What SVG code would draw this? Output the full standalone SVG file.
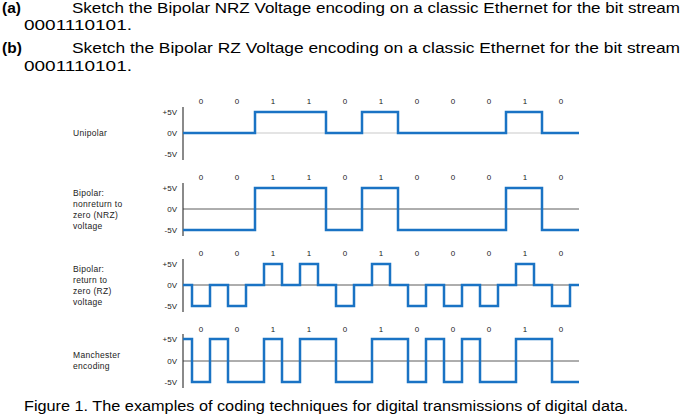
<svg xmlns="http://www.w3.org/2000/svg" width="687" height="419" viewBox="0 0 687 419">
<style>
.h{font-family:"Liberation Sans",Arial,sans-serif;font-size:15.5px;fill:#000}
.b{font-weight:bold}
.lab{font-family:"Liberation Sans",Arial,sans-serif;font-size:8.5px;fill:#222;letter-spacing:0.3px}
.v{font-family:"Liberation Sans",Arial,sans-serif;font-size:8px;fill:#222;text-anchor:end}
.bit{font-family:"Liberation Sans",Arial,sans-serif;font-size:8px;fill:#222;text-anchor:middle}
.ax{stroke:#8a8a8a;stroke-width:2}
.zl{stroke:#333;stroke-width:0.8}
.sig{fill:none;stroke:#1a73c4;stroke-width:2.5}
</style>
<rect width="687" height="419" fill="#fff"/>
<g id="header">
<text class="h b" x="2" y="13">(a)</text>
<text class="h" x="72" y="13" textLength="608" lengthAdjust="spacingAndGlyphs">Sketch the Bipolar NRZ Voltage encoding on a classic Ethernet for the bit stream</text>
<text class="h" x="24" y="30" textLength="108" lengthAdjust="spacingAndGlyphs">0001110101.</text>
<text class="h b" x="2" y="53">(b)</text>
<text class="h" x="72" y="53" textLength="608" lengthAdjust="spacingAndGlyphs">Sketch the Bipolar RZ Voltage encoding on a classic Ethernet for the bit stream</text>
<text class="h" x="24" y="71" textLength="108" lengthAdjust="spacingAndGlyphs">0001110101.</text>
</g>
<g id="bits">
<g class="bitrow">
<text class="bit" x="201" y="104">0</text><text class="bit" x="237" y="104">0</text><text class="bit" x="273" y="104">1</text><text class="bit" x="309" y="104">1</text><text class="bit" x="345" y="104">0</text><text class="bit" x="381" y="104">1</text><text class="bit" x="417" y="104">0</text><text class="bit" x="453" y="104">0</text><text class="bit" x="489" y="104">0</text><text class="bit" x="525" y="104">1</text><text class="bit" x="561" y="104">0</text>
</g>
<g class="bitrow">
<text class="bit" x="201" y="180">0</text><text class="bit" x="237" y="180">0</text><text class="bit" x="273" y="180">1</text><text class="bit" x="309" y="180">1</text><text class="bit" x="345" y="180">0</text><text class="bit" x="381" y="180">1</text><text class="bit" x="417" y="180">0</text><text class="bit" x="453" y="180">0</text><text class="bit" x="489" y="180">0</text><text class="bit" x="525" y="180">1</text><text class="bit" x="561" y="180">0</text>
</g>
<g class="bitrow">
<text class="bit" x="201" y="256">0</text><text class="bit" x="237" y="256">0</text><text class="bit" x="273" y="256">1</text><text class="bit" x="309" y="256">1</text><text class="bit" x="345" y="256">0</text><text class="bit" x="381" y="256">1</text><text class="bit" x="417" y="256">0</text><text class="bit" x="453" y="256">0</text><text class="bit" x="489" y="256">0</text><text class="bit" x="525" y="256">1</text><text class="bit" x="561" y="256">0</text>
</g>
<g class="bitrow">
<text class="bit" x="201" y="332">0</text><text class="bit" x="237" y="332">0</text><text class="bit" x="273" y="332">1</text><text class="bit" x="309" y="332">1</text><text class="bit" x="345" y="332">0</text><text class="bit" x="381" y="332">1</text><text class="bit" x="417" y="332">0</text><text class="bit" x="453" y="332">0</text><text class="bit" x="489" y="332">0</text><text class="bit" x="525" y="332">1</text><text class="bit" x="561" y="332">0</text>
</g>
</g>
<g id="unipolar">
<text class="lab" x="73" y="136">Unipolar</text>
<text class="v" x="177" y="115">+5V</text><text class="v" x="177" y="136">0V</text><text class="v" x="177" y="157">-5V</text>
<line class="ax" x1="183" y1="107" x2="183" y2="160"/>
<line x1="183" y1="133" x2="579" y2="133" stroke="#bbb" stroke-width="0.8"/>
<path class="sig" d="M183,133 H255 V112 H326 V133 H362 V112 H398 V133 H506 V112 H542 V133 H579"/>
</g>
<g id="nrz">
<text class="lab" x="73" y="196">Bipolar:</text><text class="lab" x="73" y="207">nonreturn to</text><text class="lab" x="73" y="218">zero (NRZ)</text><text class="lab" x="73" y="229">voltage</text>
<text class="v" x="177" y="191">+5V</text><text class="v" x="177" y="212">0V</text><text class="v" x="177" y="233">-5V</text>
<line class="ax" x1="183" y1="183" x2="183" y2="236"/>
<line class="zl" x1="183" y1="209" x2="579" y2="209"/>
<path class="sig" d="M183,230 H255 V188 H326 V230 H362 V188 H398 V230 H506 V188 H542 V230 H579"/>
</g>
<g id="rz">
<text class="lab" x="73" y="272">Bipolar:</text><text class="lab" x="73" y="283">return to</text><text class="lab" x="73" y="294">zero (RZ)</text><text class="lab" x="73" y="305">voltage</text>
<text class="v" x="177" y="267">+5V</text><text class="v" x="177" y="288">0V</text><text class="v" x="177" y="309">-5V</text>
<line class="ax" x1="183" y1="259" x2="183" y2="312"/>
<line class="zl" x1="183" y1="285" x2="579" y2="285"/>
<path class="sig" d="M183,285 H192 V306 H210 V285 H228 V306 H246 V285 H264 V264 H282 V285 H300 V264 H318 V285 H336 V306 H354 V285 H372 V264 H390 V285 H408 V306 H426 V285 H444 V306 H462 V285 H480 V306 H498 V285 H516 V264 H534 V285 H552 V306 H570 V285 H579"/>
</g>
<g id="manchester">
<text class="lab" x="73" y="358">Manchester</text><text class="lab" x="73" y="369">encoding</text>
<text class="v" x="177" y="342">+5V</text><text class="v" x="177" y="364">0V</text><text class="v" x="177" y="385">-5V</text>
<line class="ax" x1="183" y1="334" x2="183" y2="388"/>
<line class="zl" x1="183" y1="361" x2="579" y2="361"/>
<path class="sig" d="M183,339 H192 V382 H210 V339 H228 V382 H264 V339 H282 V382 H300 V339 H336 V382 H372 V339 H408 V382 H426 V339 H444 V382 H462 V339 H480 V382 H516 V339 H552 V382 H579"/>
</g>
<g id="caption">
<text class="h" x="24" y="411" textLength="604" lengthAdjust="spacingAndGlyphs">Figure 1.  The examples of coding techniques for digital transmissions of digital data.</text>
</g>
</svg>
